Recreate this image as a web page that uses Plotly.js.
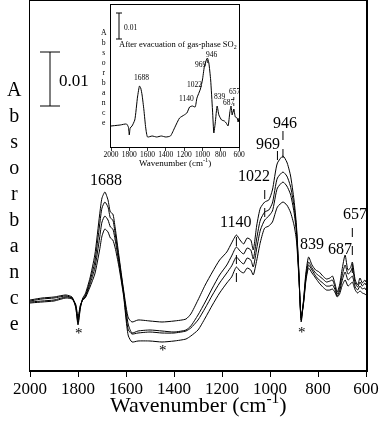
<!DOCTYPE html>
<html>
<head>
<meta charset="utf-8">
<script src="https://cdn.plot.ly/plotly-3.0.1.min.js"></script>
<style>
  html, body { margin: 0; padding: 0; background: #fff; }
  #chart { width: 380px; height: 423px; filter: grayscale(1); }
</style>
</head>
<body>
<div id="chart"></div>
<script>
// ---------- DATA (relative absorbance, arbitrary units; SCALE_MAIN units = 0.01) ----------
const wavenumber = [2000,1950,1900,1850,1825,1810,1800,1790,1780,1770,1750,1730,1710,1700,1688,1675,1665,1655,1645,1630,1610,1590,1575,1550,1500,1450,1400,1350,1330,1300,1270,1240,1210,1180,1160,1140,1125,1110,1095,1080,1070,1055,1040,1022,1005,990,969,946,930,915,900,890,880,870,860,850,839,825,810,795,780,765,750,740,730,720,710,700,687,675,665,657,645,635,625,615,605,600];
const spectrum1 = [70,72,73,75,73,64,45,62,72,76,92,115,155,172,178,170,158,156,142,115,80,52,48,50,49,48,49,51,56,70,85,98,110,118,127,135,130,126,132,130,120,145,162,168,170,180,207,214,208,195,170,145,100,48,70,98,113,105,100,98,94,91,92,94,87,78,85,100,115,100,102,108,90,85,92,87,90,88];
const spectrum2 = [69,71,72,74,72,63,47,63,71,74,89,108,145,162,168,163,152,150,136,112,78,45,37,39,40,39,38,40,44,55,68,82,95,105,114,123,119,116,122,120,111,132,150,158,160,167,192,198,194,184,164,142,98,50,70,95,108,102,97,94,91,88,89,90,84,76,82,94,105,96,98,102,87,83,88,84,87,85];
const spectrum3 = [68,69,70,73,72,65,50,64,71,73,86,102,132,148,154,150,143,141,130,108,76,40,36,37,38,37,37,39,42,50,62,75,87,97,104,113,109,106,112,110,103,122,140,150,154,159,182,188,184,176,158,138,96,52,68,92,105,100,94,90,87,84,84,85,81,74,79,89,98,90,92,94,83,80,84,81,82,80];
const spectrum4 = [67,68,69,72,71,66,53,65,70,72,83,96,120,134,141,138,132,130,122,104,74,34,28,29,29,28,29,31,34,40,52,65,77,87,93,103,99,97,102,100,95,110,128,142,144,148,163,168,165,158,145,130,94,55,67,90,102,97,92,87,83,80,80,81,78,73,76,84,90,84,86,88,80,77,79,77,76,75];

const insetWavenumber = [2000,1900,1830,1810,1800,1790,1770,1740,1710,1688,1675,1660,1640,1620,1600,1550,1500,1450,1400,1350,1300,1250,1200,1170,1140,1110,1080,1060,1022,1000,980,969,946,930,910,890,875,860,839,820,790,760,740,720,700,687,675,657,640,620,610,600];
const insetSpectrum = [21,22,23,20,12,19,21,27,50,61,59,52,37,19,10,11,10,11,10,11,20,29,32,34,40,41,40,49,58,67,80,84,89,84,67,37,14,24,41,32,27,26,24,21,35,41,32,38,30,29,25,29];

const xTickVals = [2000,1800,1600,1400,1200,1000,800,600];
const mainPeaks = ["1688","1140","1022","969","946","839","687","657"];
const insetPeaks = ["1688","1140","1022","969","946","839","687","657"];
const scaleLabel = "0.01";
const xTitle = "Wavenumber (cm<sup>-1</sup>)";
const yTitleLetters = ["A","b","s","o","r","b","a","n","c","e"];
const insetTitle = "After evacuation of gas-phase SO<sub>2</sub>";
const SCALE_MAIN = 54;   // units equal to 0.01 absorbance (main)
const SCALE_INSET = 26;  // units equal to 0.01 absorbance (inset)

// ---------- LAYOUT ----------
const SERIF = "Liberation Serif, serif";
const line = {color: "#000", width: 1};

const traces = [spectrum1, spectrum2, spectrum3, spectrum4].map(s => ({
  x: wavenumber, y: s, type: "scatter", mode: "lines",
  line: {color: "#000", width: 1, shape: "spline", smoothing: 0.6},
  xaxis: "x", yaxis: "y", hoverinfo: "skip", showlegend: false
}));
traces.push({
  x: insetWavenumber, y: insetSpectrum, type: "scatter", mode: "lines",
  line: {color: "#000", width: 1, shape: "spline", smoothing: 0.5},
  xaxis: "x2", yaxis: "y2", hoverinfo: "skip", showlegend: false
});

// label placement (positions, not data)
const mainLabelPos = {
  "1688": [1683, 191], "1140": [1142, 149], "1022": [1067, 195], "969": [1008, 227],
  "946": [937, 248], "839": [825, 127], "687": [708, 122], "657": [646, 157]
};
const insetLabelPos = {
  "1688": [1661, 69], "1140": [1179, 48], "1022": [1092, 62], "969": [1015, 82],
  "946": [895, 92], "839": [807, 50], "687": [709, 44], "657": [643, 55]
};

const annotations = [];
function ann(o) {
  annotations.push(Object.assign({showarrow: false, xanchor: "center", yanchor: "middle"}, o));
}
mainPeaks.forEach(p => {
  const [x, y] = mainLabelPos[p];
  ann({x, y, xref: "x", yref: "y", text: p, font: {family: SERIF, size: 16, color: "#000"}});
});
insetPeaks.forEach(p => {
  const [x, y] = insetLabelPos[p];
  ann({x, y, xref: "x2", yref: "y2", text: p, font: {family: SERIF, size: 7.5, color: "#000"}});
});
// asterisks
[[1796, 37], [1446, 20], [867, 38]].forEach(([x, y]) => {
  ann({x, y, xref: "x", yref: "y", text: "*", font: {family: SERIF, size: 15, color: "#000"}});
});
// vertical "Absorbance" labels
ann({x: (14 - 30) / 336, y: (370 - 206) / 369, xref: "paper", yref: "paper",
  text: yTitleLetters.join("<br>"),
  font: {family: SERIF, size: 20, color: "#000"}, align: "center"});
ann({x: (104 - 30) / 336, y: (370 - 77) / 369, xref: "paper", yref: "paper",
  text: yTitleLetters.join("<br>"),
  font: {family: SERIF, size: 7.7, color: "#000"}, align: "center"});
// x-axis titles
ann({x: 0.5, y: (370 - 403) / 369, xref: "paper", yref: "paper",
  text: xTitle, font: {family: SERIF, size: 22, color: "#000"}});
ann({x: (175 - 30) / 336, y: (370 - 162) / 369, xref: "paper", yref: "paper",
  text: xTitle, font: {family: SERIF, size: 9, color: "#000"}});
// scale bar labels
ann({x: (57 - 30) / 336, y: (370 - 80) / 369, xref: "paper", yref: "paper",
  xanchor: "left", text: scaleLabel, font: {family: SERIF, size: 17, color: "#000"}});
ann({x: (122 - 30) / 336, y: (370 - 27) / 369, xref: "paper", yref: "paper",
  xanchor: "left", text: scaleLabel, font: {family: SERIF, size: 7.5, color: "#000"}});
// inset title
ann({x: (178 - 30) / 336, y: (370 - 45) / 369, xref: "paper", yref: "paper",
  text: insetTitle, font: {family: SERIF, size: 8.5, color: "#000"}});

const shapes = [];
const dash = {color: "#000", width: 1, dash: "dash"};
// main dashed markers
[[1140, 88, 141], [1022, 153, 188], [969, 210, 222], [946, 212, 240], [657, 97, 145]].forEach(([x, y0, y1]) => {
  shapes.push({type: "line", xref: "x", yref: "y", x0: x, x1: x, y0, y1, line: dash});
});
// inset dashed markers
[[657, 35, 52], [946, 84, 88]].forEach(([x, y0, y1]) => {
  shapes.push({type: "line", xref: "x2", yref: "y2", x0: x, x1: x, y0, y1, line: {color: "#000", width: 0.8, dash: "dot"}});
});
// main scale bar
const mx = (50 - 30) / 336, mcw = 10 / 336, my0 = 370 - 106;
shapes.push({type: "line", xref: "paper", yref: "y", x0: mx, x1: mx, y0: my0, y1: my0 + SCALE_MAIN, line});
shapes.push({type: "line", xref: "paper", yref: "y", x0: mx - mcw, x1: mx + mcw, y0: my0, y1: my0, line});
shapes.push({type: "line", xref: "paper", yref: "y", x0: mx - mcw, x1: mx + mcw, y0: my0 + SCALE_MAIN, y1: my0 + SCALE_MAIN, line});
// inset scale bar
const ix = (119 - 111) / 128, icw = 3 / 128, iy0 = 147 - 39;
shapes.push({type: "line", xref: "x2 domain", yref: "y2", x0: ix, x1: ix, y0: iy0, y1: iy0 + SCALE_INSET, line});
shapes.push({type: "line", xref: "x2 domain", yref: "y2", x0: ix - icw, x1: ix + icw, y0: iy0, y1: iy0, line});
shapes.push({type: "line", xref: "x2 domain", yref: "y2", x0: ix - icw, x1: ix + icw, y0: iy0 + SCALE_INSET, y1: iy0 + SCALE_INSET, line});

const layout = {
  width: 380, height: 423,
  margin: {l: 30, r: 14, t: 1, b: 53, pad: 0},
  paper_bgcolor: "#fff", plot_bgcolor: "#fff",
  showlegend: false,
  xaxis: {
    range: [2000, 600], tickvals: xTickVals, ticktext: xTickVals.map(String),
    ticks: "outside", ticklen: 5, tickwidth: 1, tickcolor: "#000",
    ticklabelstandoff: -3,
    showline: true, linecolor: "#000", linewidth: 1.5, mirror: true,
    showgrid: false, zeroline: false,
    tickfont: {family: SERIF, size: 17, color: "#000"},
    domain: [0, 1]
  },
  yaxis: {
    range: [0, 369], showticklabels: false, ticks: "",
    showline: true, linecolor: "#000", linewidth: 1.5, mirror: true,
    showgrid: false, zeroline: false, domain: [0, 1]
  },
  xaxis2: {
    anchor: "y2", domain: [(111 - 30) / 336, (239 - 30) / 336],
    range: [2000, 600], tickvals: xTickVals, ticktext: xTickVals.map(String),
    ticks: "outside", ticklen: 3, tickwidth: 0.8, tickcolor: "#000",
    ticklabelstandoff: -3,
    showline: true, linecolor: "#000", linewidth: 1, mirror: true,
    showgrid: false, zeroline: false,
    tickfont: {family: SERIF, size: 7.5, color: "#000"}
  },
  yaxis2: {
    anchor: "x2", domain: [(370 - 147) / 369, (370 - 5) / 369],
    range: [0, 142], showticklabels: false, ticks: "",
    showline: true, linecolor: "#000", linewidth: 1, mirror: true,
    showgrid: false, zeroline: false
  },
  annotations, shapes
};

Plotly.newPlot("chart", traces, layout, {staticPlot: true, displayModeBar: false});
</script>
</body>
</html>
